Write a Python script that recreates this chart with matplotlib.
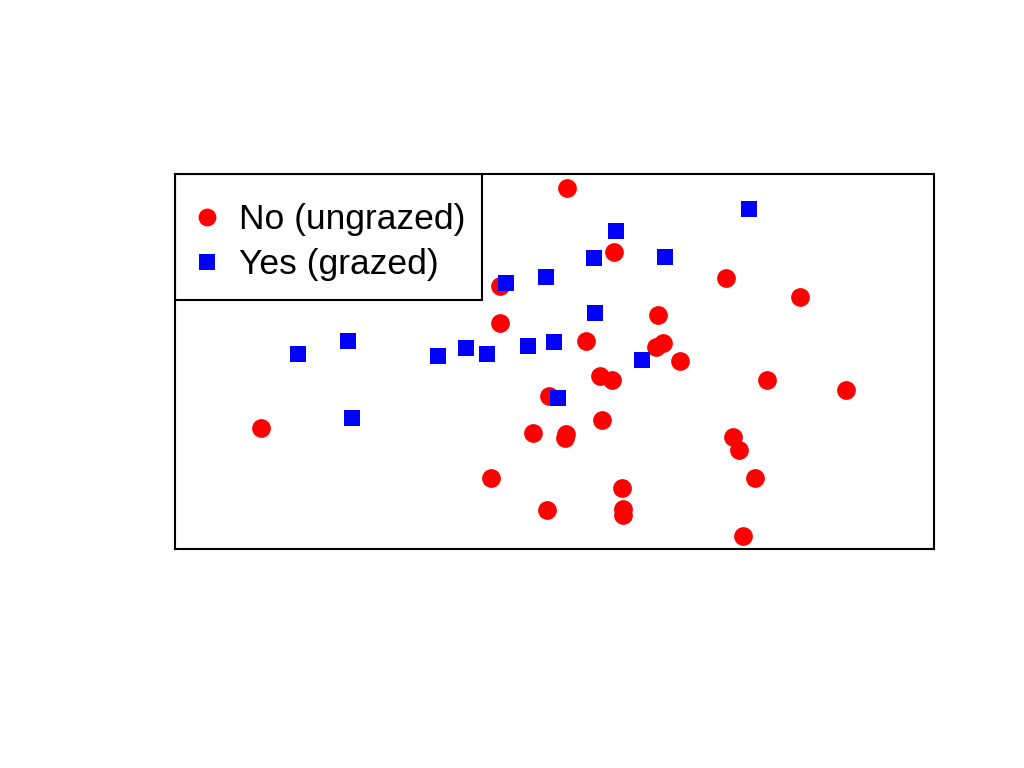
import matplotlib
matplotlib.use('Agg')
import matplotlib.pyplot as plt
from matplotlib.patches import Rectangle

plt.rcParams['font.family'] = ['Liberation Sans', 'DejaVu Sans']

# ungrazed (red circles)
no_x = [566.7, 614, 500, 726, 800, 500, 657.7, 586, 662.7, 655.7, 680.3, 600.3, 612.3,
        767.3, 846, 549, 261, 601.7, 533.3, 565.7, 565, 732.7, 739.3, 755.3, 491.3,
        621.7, 546.7, 622.7, 623.3, 743]
no_y = [188.3, 252, 285.7, 278, 297, 322.7, 315, 341, 343.3, 346.7, 360.7, 376, 379.7,
        379.7, 390, 396, 428, 419.7, 433, 434.3, 438.3, 436.7, 450.3, 478.3, 478.3,
        488.3, 510.3, 509.3, 514.7, 536.3]

# grazed (blue squares)
yes_x = [748.7, 615.7, 594, 664.7, 546, 505.7, 594.7, 527.7, 553.7, 487.3, 642, 558.3,
         298, 348, 438, 466, 352]
yes_y = [209.3, 230.7, 258, 257.3, 277, 283.3, 312.7, 345.7, 341.7, 353.7, 359.7, 398,
         354, 341, 356, 348, 418]

fig = plt.figure(figsize=(10.24, 7.68), dpi=100)
ax = fig.add_axes([175/1024, 1 - 549/768, 759/1024, 375/768])

ax.plot(no_x, no_y, 'o', color='#ff0000', markersize=13.5, markeredgewidth=0,
        label='No (ungrazed)')
ax.plot(yes_x, yes_y, 's', color='#0000ff', markersize=11.5, markeredgewidth=0,
        label='Yes (grazed)')

ax.set_xlim(175, 934)
ax.set_ylim(549, 174)
ax.set_xticks([])
ax.set_yticks([])
for s in ax.spines.values():
    s.set_linewidth(1.5)
    s.set_zorder(5)

# legend box (R style: white, square corners)
box = Rectangle((0, 1 - 126/375), 307/759, 126/375, transform=ax.transAxes,
                facecolor='white', edgecolor='black', linewidth=1.5, zorder=3)
ax.add_patch(box)

leg = ax.legend(loc='upper left', bbox_to_anchor=(21.5/759, 1 - 29/375), frameon=False,
                borderaxespad=0, borderpad=0, fontsize=25.5, handlelength=0.6,
                handletextpad=0.6, labelspacing=0.35, markerscale=0.95)
leg.set_zorder(4)

fig.savefig('out.png', dpi=100)
